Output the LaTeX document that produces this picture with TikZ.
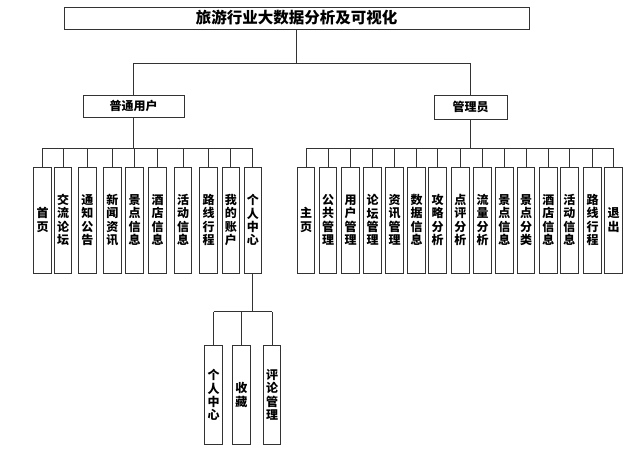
\documentclass[tikz,border=0pt]{standalone}
\usepackage{fontspec}
\newfontfamily\cjk{Noto Sans CJK SC}
\begin{document}
\begin{tikzpicture}[x=1pt,y=-1pt,
  box/.style={draw=black!80, line width=1pt, fill=white, inner sep=0pt, align=center},
  vbox/.style={box, minimum width=17.5pt, minimum height=106pt, font=\cjk\bfseries\fontsize{12}{13.4}\selectfont},
  wbox/.style={vbox, minimum height=98.5pt},
  link/.style={draw=black!80, line width=0.9pt}]
\useasboundingbox (0,0) rectangle (634,450);
% top
\node[box, minimum width=465pt, minimum height=22pt, font=\cjk\bfseries\fontsize{15.5}{18}\selectfont] (t) at (296.5,18) {旅游行业大数据分析及可视化};
\node[box, minimum width=101pt, minimum height=22pt, font=\cjk\bfseries\fontsize{12}{14}\selectfont] (u) at (133.5,106) {普通用户};
\node[box, minimum width=73pt, minimum height=24pt, font=\cjk\bfseries\fontsize{12}{14}\selectfont] (a) at (470.5,107) {管理员};
\coordinate (bus0) at (0,63.6);
\coordinate (ubus) at (0,148);
\coordinate (abus) at (0,148);
\coordinate (pbus) at (0,311.7);
\draw[link] (t.south) -- (t.south |- bus0);
\draw[link] (u.north) -- (u.north |- bus0) -- (a.north |- bus0) -- (a.north);
% user children
\foreach \n/\x/\t in {1/42.5/首\\页, 2/63.2/交\\流\\论\\坛, 3/87.4/通\\知\\公\\告, 4/112.4/新\\闻\\资\\讯, 5/134.7/景\\点\\信\\息, 6/157.5/酒\\店\\信\\息, 7/183/活\\动\\信\\息, 8/208.7/路\\线\\行\\程, 9/230.8/我\\的\\账\\户, 10/252.8/个\\人\\中\\心}
  \node[vbox] (u\n) at (\x,220) {\t};
\draw[link] (u.south) -- (u.south |- ubus);
\draw[link] (u1.north |- ubus) -- (u10.north |- ubus);
\foreach \n in {1,...,10} \draw[link] (u\n.north) -- (u\n.north |- ubus);
% admin children
\foreach \n/\x/\t in {1/306/主\\页, 2/328/公\\共\\管\\理, 3/350.5/用\\户\\管\\理, 4/372.5/论\\坛\\管\\理, 5/394.7/资\\讯\\管\\理, 6/416.7/数\\据\\信\\息, 7/437.7/攻\\略\\分\\析, 8/460.3/点\\评\\分\\析, 9/482.5/流\\量\\分\\析, 10/504.3/景\\点\\信\\息, 11/526.2/景\\点\\分\\类, 12/548.3/酒\\店\\信\\息, 13/569.3/活\\动\\信\\息, 14/592.7/路\\线\\行\\程, 15/613.7/退\\出}
  \node[vbox] (a\n) at (\x,220) {\t};
\draw[link] (a.south) -- (a.south |- abus);
\draw[link] (a1.north |- abus) -- (a15.north |- abus);
\foreach \n in {1,...,15} \draw[link] (a\n.north) -- (a\n.north |- abus);
% personal center children
\node[wbox] (p1) at (213.7,395) {个\\人\\中\\心};
\node[wbox] (p2) at (241.3,395) {收\\藏};
\node[wbox] (p3) at (272,395) {评\\论\\管\\理};
\draw[link] (u10.south) -- (u10.south |- pbus);
\draw[link] (p1.north |- pbus) -- (p3.north |- pbus);
\foreach \n in {1,2,3} \draw[link] (p\n.north) -- (p\n.north |- pbus);
\end{tikzpicture}
\end{document}
